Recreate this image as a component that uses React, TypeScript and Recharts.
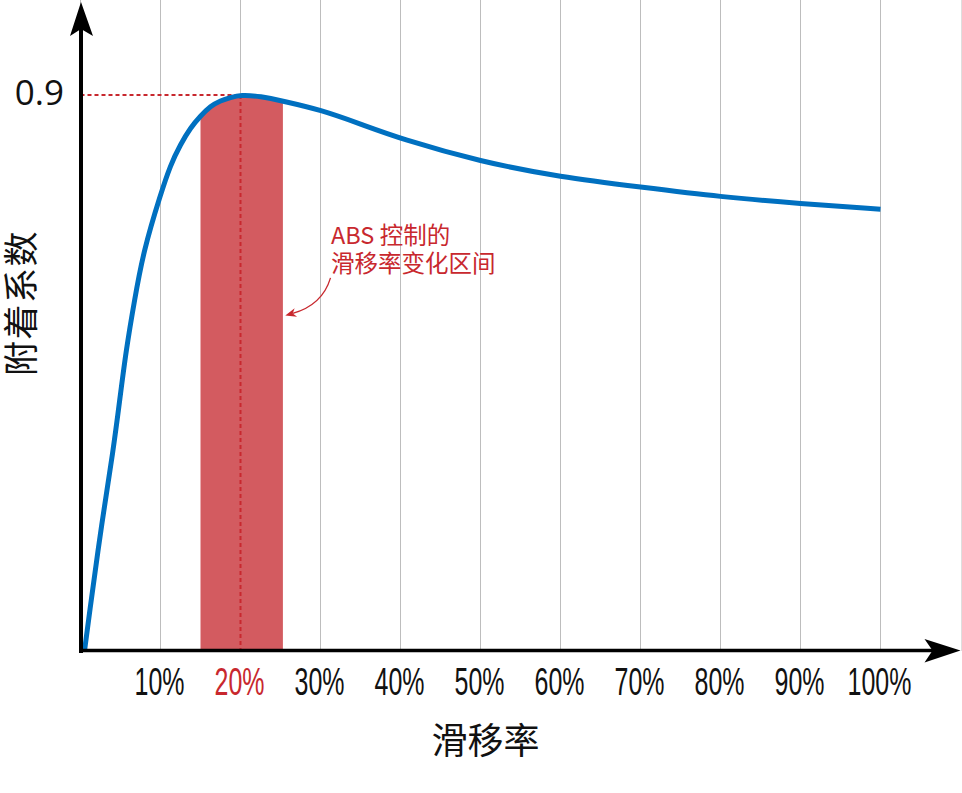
import { Area, CartesianGrid, ComposedChart, Line, ReferenceLine, XAxis, YAxis } from "recharts";

// slip ratio (%) and adhesion coefficient
const slip = [
  0.5, 1, 2.7, 4.1, 4.9, 5.7, 6.75, 7.9, 10, 11.25, 12.5, 13.75, 15, 16.25, 17.5, 18.75, 20, 22.5, 25.3, 30, 35, 40,
  50, 60, 70, 80, 90, 100
];
const adhesion = [
  0, 0.05, 0.212, 0.325, 0.406, 0.487, 0.568, 0.649, 0.739, 0.787, 0.82, 0.847, 0.866, 0.882, 0.891, 0.896, 0.9,
  0.898, 0.89, 0.876, 0.853, 0.829, 0.792, 0.767, 0.751, 0.735, 0.724, 0.715
];

const slipTicks = [10, 20, 30, 40, 50, 60, 70, 80, 90, 100];
const adhesionTicks = [0.9];
const absWindow = [15, 25.3];
const peakSlip = 20;
const peakAdhesion = 0.9;
const noteLines = ["ABS 控制的", "滑移率变化区间"];
const noteFrom = { slip: 31.25, adhesion: 0.604 };
const noteTo = { slip: 25.6, adhesion: 0.543 };

const xMax = 110.1875;
const yMax = 1.0537;

const red = "#c8282e";
const blue = "#0070c0";
const cjk = "'Noto Sans CJK SC', 'Noto Sans', sans-serif";

const curveData = slip.map((s, i) => ({ slip: s, adhesion: adhesion[i] }));
const bandData = curveData.filter((d) => d.slip >= absWindow[0] && d.slip <= absWindow[1]);

function SlipTick({ x, y, payload }: any) {
  const v = payload.value;
  return (
    <text
      transform={`translate(${x - 1},${y + 44}) scale(0.64,1)`}
      textAnchor="middle"
      fontFamily="'Liberation Sans Narrow', 'Liberation Sans', sans-serif"
      fontSize={39}
      fill={v === peakSlip ? red : "#111"}
    >
      {v}%
    </text>
  );
}

function AdhesionTick({ x, y, payload }: any) {
  return (
    <text x={x} y={y + 10} textAnchor="end" fontFamily="'Open Sans', sans-serif" fontSize={35} fill="#111">
      {payload.value}
    </text>
  );
}

function YArrow({ x1, y1, x2, y2 }: any) {
  const x = x2 + 0.5;
  return (
    <g>
      <line x1={x} y1={y1 + 2} x2={x} y2={y2 + 26} stroke="#000" strokeWidth={4} />
      <path d={`M${x},${y2} L${x + 12},${y2 + 34} L${x},${y2 + 27} L${x - 11},${y2 + 34} Z`} fill="#000" />
    </g>
  );
}

function XArrow({ x1, y1, x2, y2 }: any) {
  const y = y2 - 0.5;
  return (
    <g>
      <line x1={x1 - 1} y1={y1 - 0.5} x2={x2 - 26} y2={y} stroke="#000" strokeWidth={3.5} />
      <path d={`M${x2},${y} L${x2 - 36},${y - 11.5} L${x2 - 28},${y} L${x2 - 36},${y + 12} Z`} fill="#000" />
    </g>
  );
}

function NoteArrow({ x1, y1, x2, y2 }: any) {
  const cx = x1 - 8;
  const cy = y1 + 27;
  const ang = Math.atan2(y2 - cy, x2 - cx);
  const len = 11;
  const half = 4.5;
  const bx = x2 - len * Math.cos(ang);
  const by = y2 - len * Math.sin(ang);
  const nx = -Math.sin(ang) * half;
  const ny = Math.cos(ang) * half;
  const mx = x2 - len * 0.7 * Math.cos(ang);
  const my = y2 - len * 0.7 * Math.sin(ang);
  return (
    <g>
      <path d={`M${x1},${y1} Q${cx},${cy} ${mx},${my}`} fill="none" stroke={red} strokeWidth={1.3} />
      <path d={`M${x2},${y2} L${bx + nx},${by + ny} L${mx},${my} L${bx - nx},${by - ny} Z`} fill={red} />
    </g>
  );
}

export default function App() {
  return (
    <div style={{ position: "absolute", left: 0, top: 0, width: 962, height: 793, background: "#fff" }}>
      <ComposedChart width={962} height={793} margin={{ top: 0, right: 0, bottom: 82, left: 0 }}>
        <CartesianGrid horizontal={false} stroke="#bdbdbd" strokeWidth={1} />
        <XAxis
          dataKey="slip"
          type="number"
          domain={[0, xMax]}
          ticks={slipTicks}
          allowDataOverflow
          axisLine={false}
          tickLine={false}
          tickSize={0}
          tickMargin={0}
          height={60}
          tick={<SlipTick />}
          interval={0}
          label={() => (
            <text x={485.5} y={754} textAnchor="middle" fontFamily={cjk} fontSize={36} fill="#111">
              滑移率
            </text>
          )}
        />
        <YAxis
          type="number"
          domain={[0, yMax]}
          ticks={adhesionTicks}
          allowDataOverflow
          axisLine={false}
          tickLine={false}
          tickSize={0}
          tickMargin={16.5}
          width={80.5}
          tick={<AdhesionTick />}
          interval={0}
          label={() => (
            <text
              transform="translate(34,303) rotate(-90)"
              textAnchor="middle"
              fontFamily="'Liberation Sans', 'Noto Sans CJK SC', sans-serif"
              fontSize={35}
              letterSpacing={1.5}
              fill="#111"
            >
              附着系数
            </text>
          )}
        />
        <Area
          data={bandData}
          dataKey="adhesion"
          type="basis"
          fill="#d35b60"
          fillOpacity={1}
          stroke="none"
          isAnimationActive={false}
        />
        <ReferenceLine
          segment={[
            { x: 0, y: peakAdhesion },
            { x: peakSlip, y: peakAdhesion }
          ]}
          stroke={red}
          strokeWidth={2}
          strokeDasharray="4 3"
        />
        <ReferenceLine
          segment={[
            { x: peakSlip, y: peakAdhesion },
            { x: peakSlip, y: 0 }
          ]}
          stroke={red}
          strokeWidth={2}
          strokeDasharray="4 3"
        />
        <Line
          data={curveData}
          dataKey="adhesion"
          type="basis"
          stroke={blue}
          strokeWidth={5}
          dot={false}
          activeDot={false}
          isAnimationActive={false}
        />
        <ReferenceLine
          segment={[
            { x: noteFrom.slip, y: noteFrom.adhesion },
            { x: noteTo.slip, y: noteTo.adhesion }
          ]}
          shape={<NoteArrow />}
        />
        <ReferenceLine
          segment={[
            { x: 0, y: 0 },
            { x: 0, y: 1.0505 }
          ]}
          shape={<YArrow />}
        />
        <ReferenceLine
          segment={[
            { x: 0, y: 0 },
            { x: 110, y: 0 }
          ]}
          shape={<XArrow />}
        />
      </ComposedChart>
      <div
        style={{
          position: "absolute",
          left: 331,
          top: 219.75,
          fontFamily: cjk,
          fontSize: 23.5,
          lineHeight: "28px",
          color: red,
          whiteSpace: "pre"
        }}
      >
        {noteLines.join("\n")}
      </div>
    </div>
  );
}
